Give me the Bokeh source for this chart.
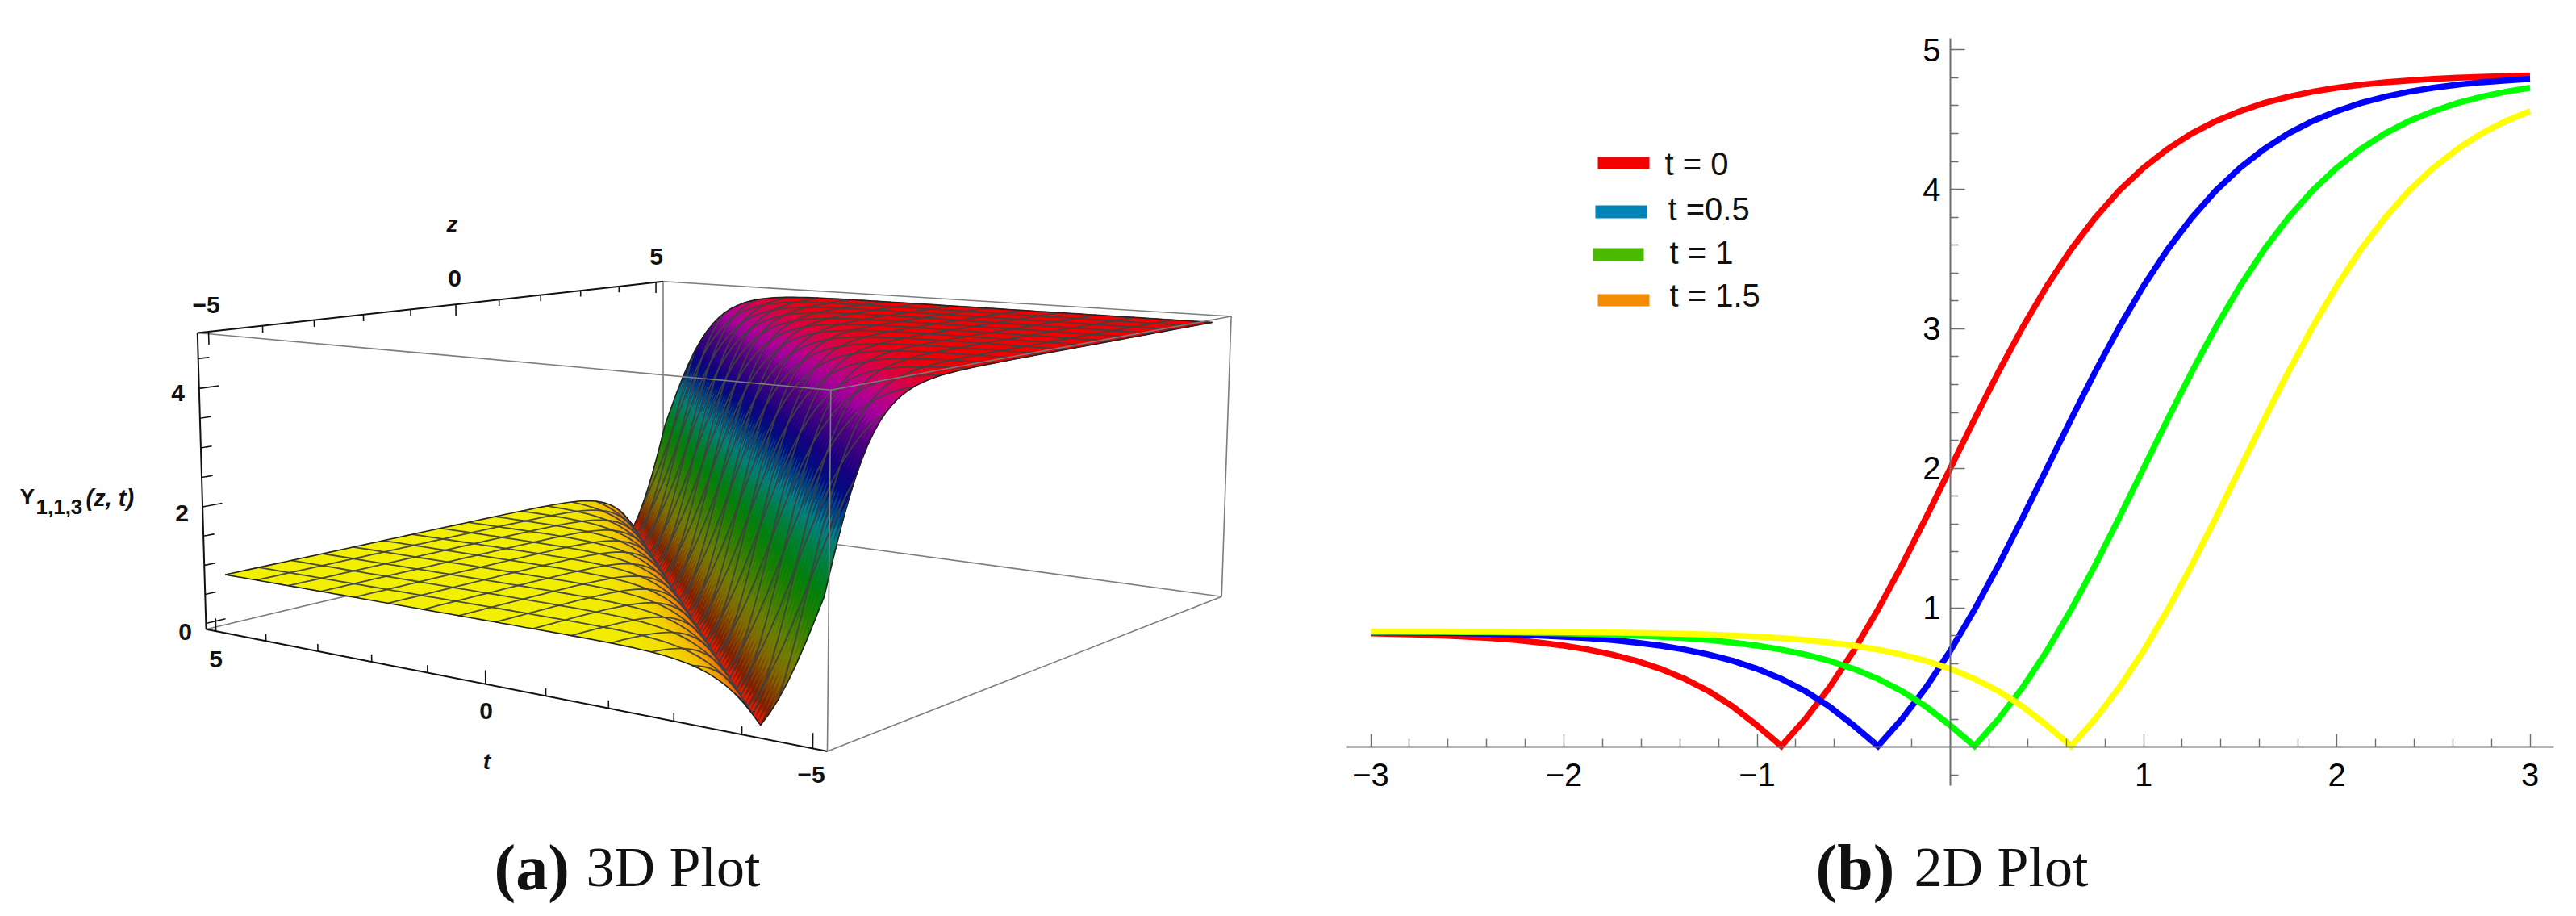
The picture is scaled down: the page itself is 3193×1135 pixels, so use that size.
import colorsys
import numpy as np
from bokeh.embed import file_html
from bokeh.layouts import row
from bokeh.models import FixedTicker, Label, LinearAxis, Range1d
from bokeh.plotting import figure
from bokeh.resources import INLINE

# ---------------- data ----------------
x_values = [-3.0, -2.875, -2.75, -2.625, -2.5, -2.375, -2.25, -2.125, -2.0, -1.875, -1.75, -1.625, -1.5,
            -1.375, -1.25, -1.125, -1.0, -0.875, -0.75, -0.625, -0.5, -0.375, -0.25, -0.125, 0.0,
            0.125, 0.25, 0.375, 0.5, 0.625, 0.75, 0.875, 1.0, 1.125, 1.25, 1.375, 1.5,
            1.625, 1.75, 1.875, 2.0, 2.125, 2.25, 2.375, 2.5, 2.625, 2.75, 2.875, 3.0]
y_t0 = [.816, .812, .807, .800, .792, .781, .768, .750, .728, .700, .664, .619, .561,
        .490, .401, .290, .155, .008, .203, .430, .692, .986, 1.307, 1.648, 2.000,
        2.352, 2.693, 3.014, 3.308, 3.570, 3.797, 3.992, 4.155, 4.290, 4.401, 4.490, 4.561,
        4.619, 4.664, 4.700, 4.728, 4.750, 4.768, 4.781, 4.792, 4.800, 4.807, 4.812, 4.816]
y_t05 = [.825, .824, .822, .819, .816, .812, .807, .800, .792, .781, .768, .750, .728,
         .700, .664, .619, .561, .490, .401, .290, .155, .008, .203, .430, .692,
         .986, 1.307, 1.648, 2.000, 2.352, 2.693, 3.014, 3.308, 3.570, 3.797, 3.992, 4.155,
         4.290, 4.401, 4.490, 4.561, 4.619, 4.664, 4.700, 4.728, 4.750, 4.768, 4.781, 4.792]
y_t1 = [.828, .828, .827, .826, .825, .824, .822, .819, .816, .812, .807, .800, .792,
        .781, .768, .750, .728, .700, .664, .619, .561, .490, .401, .290, .155,
        .008, .203, .430, .692, .986, 1.307, 1.648, 2.000, 2.352, 2.693, 3.014, 3.308,
        3.570, 3.797, 3.992, 4.155, 4.290, 4.401, 4.490, 4.561, 4.619, 4.664, 4.700, 4.728]
y_t15 = [.829, .829, .829, .829, .828, .828, .827, .826, .825, .824, .822, .819, .816,
         .812, .807, .800, .792, .781, .768, .750, .728, .700, .664, .619, .561,
         .490, .401, .290, .155, .008, .203, .430, .692, .986, 1.307, 1.648, 2.000,
         2.352, 2.693, 3.014, 3.308, 3.570, 3.797, 3.992, 4.155, 4.290, 4.401, 4.490, 4.561]
series_colors = ["#ff0000", "#0000ff", "#00ff00", "#ffff00"]

x_ticks = [-3, -2, -1, 1, 2, 3]
y_ticks = [1, 2, 3, 4, 5]
x_tick_labels = {-3: "\u22123", -2: "\u22122", -1: "\u22121", 1: "1", 2: "2", 3: "3"}
y_tick_labels = {1: "1", 2: "2", 3: "3", 4: "4", 5: "5"}
x_minor = [-2.8, -2.6, -2.4, -2.2, -1.8, -1.6, -1.4, -1.2, -0.8, -0.6, -0.4, -0.2,
           0.2, 0.4, 0.6, 0.8, 1.2, 1.4, 1.6, 1.8, 2.2, 2.4, 2.6, 2.8]
y_minor = [-0.2, 0.2, 0.4, 0.6, 0.8, 1.2, 1.4, 1.6, 1.8, 2.2, 2.4, 2.6, 2.8,
           3.2, 3.4, 3.6, 3.8, 4.2, 4.4, 4.6, 4.8]

legend_labels = ["t = 0", "t =0.5", "t = 1", "t = 1.5"]
legend_colors = ["#f50000", "#0084b8", "#4db800", "#f28c00"]

# Surface height as a function of (z - t), one entry per 1/8 of a unit, from -10 to +10.
profile_low = [.83] * 44 + [.829, .829, .829, .829, .828, .828, .827, .826, .825, .824, .822, .819,
                            .816, .812, .807, .800, .792, .781, .768, .750, .728, .700, .664, .619,
                            .561, .490, .401, .290, .155, .008, .203, .430, .692, .986, 1.307, 1.648]
profile_high = [2.000, 2.352, 2.693, 3.014, 3.308, 3.570, 3.797, 3.992, 4.155, 4.290, 4.401, 4.490,
                4.561, 4.619, 4.664, 4.700, 4.728, 4.750, 4.768, 4.781, 4.792, 4.800, 4.807, 4.812,
                4.816, 4.819, 4.822, 4.824, 4.825, 4.826, 4.827, 4.827, 4.828, 4.828, 4.829, 4.829,
                4.829] + [4.83] * 44
surface_profile = profile_low + profile_high

# colour scale of the surface: height -> hue
hue_heights = [0, .83, 2.3, 3.3, 4.0, 4.5, 4.83]
hue_values = [0, .165, .40, .65, .77, .88, 1.0]

axis_ticks_z = [-5, -4, -3, -2, -1, 0, 1, 2, 3, 4, 5]
axis_ticks_t = [-5, -4, -3, -2, -1, 0, 1, 2, 3, 4, 5]
axis_ticks_y = [0, .5, 1, 1.5, 2, 2.5, 3, 3.5, 4, 4.5]
major_3d = [-5, 0, 5]
major_3d_y = [0, 2, 4]

# ---------------- layout ----------------
PAGE = 0
W1, W2, H = 1640, 1537, 1125
FONT = "Liberation Sans"
SERIF = "Liberation Serif"

# ---------------- left panel: 3D surface ----------------
left = figure(width=W1, height=H, x_axis_type=None, y_axis_type=None, toolbar_location=None,
              output_backend="svg", min_border=0, outline_line_color=None,
              x_range=Range1d(PAGE, PAGE + W1), y_range=Range1d(PAGE + H, PAGE))
left.grid.visible = False

B = 5.2
Y0, Y1 = -0.1, 4.93
box_points = [((-B, B, Y0), (256, 782)), ((-B, B, Y1), (243.5, 412)),
              ((B, B, Y1), (823, 349)), ((B, B, Y0), (820, 642)),
              ((-B, -B, Y0), (1026, 928.6)), ((-B, -B, Y1), (1028, 481)),
              ((B, -B, Y1), (1525.5, 392)), ((B, -B, Y0), (1514, 741))]

rows = []
rhs = []
for (a, b, c), (u, v) in box_points:
    rows.append([a, b, c, 1, 0, 0, 0, 0, -u * a, -u * b, -u * c])
    rhs.append(u)
    rows.append([0, 0, 0, 0, a, b, c, 1, -v * a, -v * b, -v * c])
    rhs.append(v)
sol = np.linalg.lstsq(np.array(rows, float), np.array(rhs, float), rcond=None)[0]
P = np.append(sol, 1.0).reshape(3, 4)


def project(z, t, y):
    z, t, y = np.asarray(z, float), np.asarray(t, float), np.asarray(y, float)
    h = np.stack([z, t, y, np.ones_like(z)])
    q = P @ h
    return q[0] / q[2], q[1] / q[2]


def edges(pairs):
    xs, ys = [], []
    for a, b in pairs:
        ex, ey = project([a[0], b[0]], [a[1], b[1]], [a[2], b[2]])
        xs.append(list(ex))
        ys.append(list(ey))
    return xs, ys


GRAY = "#7d7d7d"
xs, ys = edges([((-B, B, Y0), (B, B, Y0)), ((B, B, Y0), (B, -B, Y0)), ((B, B, Y0), (B, B, Y1))])
left.multi_line(xs, ys, line_color=GRAY, line_width=1.6)

# surface cells, far to near
n = 80
MESH = 5
h = 10.0 / n
grid = np.array(surface_profile)
cell_x, cell_y, cell_c = [], [], []
for i in range(n - 1, -1, -1):
    for j in range(n - 1, -1, -1):
        zz = [-5 + i * h, -5 + (i + 1) * h, -5 + (i + 1) * h, -5 + i * h]
        tt = [-5 + j * h, -5 + j * h, -5 + (j + 1) * h, -5 + (j + 1) * h]
        ks = [i - j + n, i + 1 - j + n, i - j + n, i - 1 - j + n]
        yy = grid[ks]
        px, py = project(zz, tt, yy)
        cell_x.append(list(px))
        cell_y.append(list(py))
        s = (yy[1] - yy[3]) / (2 * h)
        val = 0.95 - 0.45 * min(1.0, max(0.0, s) / 1.3)
        hue = float(np.interp(yy.mean(), hue_heights, hue_values)) % 1.0
        r, g, b = colorsys.hsv_to_rgb(hue, 1.0, val)
        cell_c.append("#%02x%02x%02x" % (int(r * 255), int(g * 255), int(b * 255)))
left.patches(cell_x, cell_y, fill_color=cell_c, line_color=cell_c, line_width=1)

# mesh lines
mesh_x, mesh_y = [], []
for m in range(MESH, n, MESH):
    zc = [-5 + m * h] * (n + 1)
    tc = [-5 + j * h for j in range(n + 1)]
    yc = [grid[m - j + n] for j in range(n + 1)]
    px, py = project(zc, tc, yc)
    mesh_x.append(list(px))
    mesh_y.append(list(py))
    tc2 = [-5 + m * h] * (n + 1)
    zc2 = [-5 + j * h for j in range(n + 1)]
    yc2 = [grid[j - m + n] for j in range(n + 1)]
    px, py = project(zc2, tc2, yc2)
    mesh_x.append(list(px))
    mesh_y.append(list(py))
left.multi_line(mesh_x, mesh_y, line_color="#404040", line_width=1.8, line_alpha=0.95)

# outer silhouette of the surface
sil = []
for (zc, tc) in [([-5] * (n + 1), [-5 + j * h for j in range(n + 1)]),
                 ([5] * (n + 1), [-5 + j * h for j in range(n + 1)]),
                 ([-5 + j * h for j in range(n + 1)], [5] * (n + 1)),
                 ([-5 + j * h for j in range(n + 1)], [-5] * (n + 1))]:
    yc = [grid[int(round((a - b) / h)) + n] for a, b in zip(zc, tc)]
    px, py = project(zc, tc, yc)
    sil.append((list(px), list(py)))
left.multi_line([s[0] for s in sil], [s[1] for s in sil], line_color="#222222", line_width=1.6)

xs, ys = edges([((-B, B, Y1), (-B, -B, Y1)), ((-B, -B, Y1), (B, -B, Y1)), ((B, -B, Y1), (B, B, Y1)),
                ((-B, -B, Y0), (-B, -B, Y1)), ((B, -B, Y0), (B, -B, Y1)), ((-B, -B, Y0), (B, -B, Y0))])
left.multi_line(xs, ys, line_color=GRAY, line_width=1.6)

# axes with ticks
xs, ys = edges([((-B, B, Y0), (-B, B, Y1)), ((-B, B, Y1), (B, B, Y1)), ((-B, B, Y0), (-B, -B, Y0))])
left.multi_line(xs, ys, line_color="#111111", line_width=2)
pairs = []
for v in axis_ticks_z:
    d = 0.22 if v in major_3d else 0.12
    pairs.append(((v, B, Y1), (v, B, Y1 - d)))
for v in axis_ticks_t:
    d = 0.22 if v in major_3d else 0.12
    pairs.append(((-B, v, Y0), (-B, v, Y0 + d)))
for v in axis_ticks_y:
    d = 0.36 if v in major_3d_y else 0.2
    pairs.append(((-B, B, v), (-B + d, B, v)))
xs, ys = edges(pairs)
left.multi_line(xs, ys, line_color="#111111", line_width=1.6)


def ltext(p, x, y, s, size, style="bold", font=FONT, align="center", base="middle"):
    p.add_layout(Label(x=x, y=y, text=s, text_font=font, text_font_size=f"{size}px",
                       text_font_style=style, text_align=align, text_baseline=base,
                       text_color="#111111"))


for x, y, s in [(255, 377, "\u22125"), (563, 344, "0"), (813, 317, "5"),
                (220, 486, "4"), (225, 635, "2"), (229, 782, "0"),
                (267, 816, "5"), (602, 880, "0"), (1005, 959, "\u22125")]:
    ltext(left, x, y, s, 30)
ltext(left, 603, 943, "t", 28, "bold italic")
ltext(left, 560, 277, "z", 28, "bold italic")
ltext(left, 24, 615, "Y", 28, align="left")
ltext(left, 44, 627, "1,1,3", 26, align="left")
ltext(left, 106, 616, "(z, t)", 29, "bold italic", align="left")
ltext(left, 612, 1074, "(a)", 80, "bold", SERIF, "left")
ltext(left, 726, 1074, "3D Plot", 70, "normal", SERIF, "left")

# ---------------- right panel: 2D curves ----------------
X0, XS, Y00, YS = 2417.0, 239.5, 925.3, 172.8


def X(px):
    return (px - X0) / XS


def Y(py):
    return (Y00 - py) / YS


FX0 = PAGE + W1
right = figure(width=W2, height=H, x_axis_type=None, y_axis_type=None, toolbar_location=None,
               output_backend="svg", min_border=0, outline_line_color=None,
               x_range=Range1d(X(FX0), X(FX0 + W2)), y_range=Range1d(Y(PAGE + H), Y(PAGE)))
right.grid.visible = False

for a, side, loc, ticks, minor, labels, bounds, tick in [
    ("x", "below", 0, x_ticks, x_minor, x_tick_labels, (-3.125, 3.123), 16),
    ("y", "left", 0, y_ticks, y_minor, y_tick_labels, (-0.274, 5.08), 18),
]:
    ax = LinearAxis(fixed_location=loc, ticker=FixedTicker(ticks=ticks, minor_ticks=minor),
                    major_label_overrides=labels, bounds=bounds,
                    axis_line_color="#6e6e6e", axis_line_width=2,
                    major_tick_line_color="#6e6e6e", major_tick_line_width=1.4,
                    minor_tick_line_color="#6e6e6e", minor_tick_line_width=1.4,
                    major_tick_in=tick, major_tick_out=0, minor_tick_in=10, minor_tick_out=0,
                    major_label_text_font=FONT, major_label_text_font_size="40px",
                    major_label_text_color="black",
                    major_label_standoff=20 if a == "x" else 12)
    right.add_layout(ax, side)

for vals, c in zip([y_t0, y_t05, y_t1, y_t15], series_colors):
    right.line(x_values, vals, line_color=c, line_width=7.5, line_join="miter")

swatches = [(1980, 2044, 194, 209), (1977, 2041, 254, 270), (1974, 2037, 307, 323), (1980, 2044, 364, 379)]
for (l, r_, t, b), c in zip(swatches, legend_colors):
    right.quad(left=[X(l)], right=[X(r_)], top=[Y(t)], bottom=[Y(b)], fill_color=c, line_color=None)
for (px, py), s in zip([(2063, 202), (2067, 258), (2069, 312), (2069, 365)], legend_labels):
    ltext(right, X(px), Y(py), s, 40, "normal", FONT, "left", "middle")

ltext(right, X(2250), Y(1074), "(b)", 80, "bold", SERIF, "left")
ltext(right, X(2372), Y(1074), "2D Plot", 70, "normal", SERIF, "left")

page = row(left, right, spacing=0)
open("out.html", "w").write(file_html(page, INLINE))
